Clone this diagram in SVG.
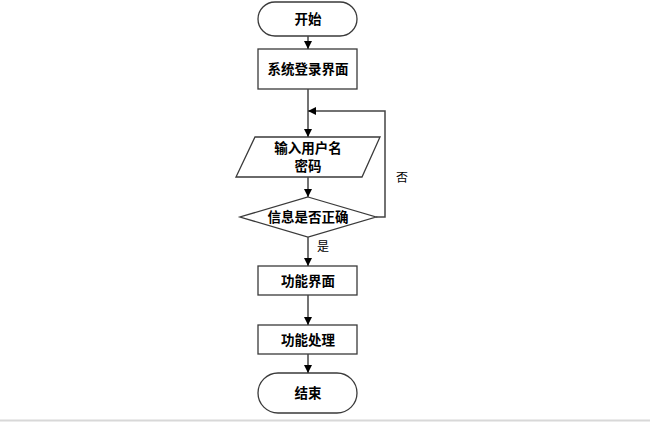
<svg xmlns="http://www.w3.org/2000/svg" width="650" height="422" viewBox="0 0 650 422">
<defs>
<marker id="arr" viewBox="0 0 10 10" refX="10" refY="5" markerWidth="8" markerHeight="8" markerUnits="userSpaceOnUse" orient="auto">
<path d="M0,0 L10,5 L0,10 z" fill="#000"/>
</marker>
<style>
.shape{fill:#fff;stroke:#3a3a3a;stroke-width:1.3}
.t{font-family:"Liberation Sans","Noto Sans CJK SC",sans-serif;font-size:13.5px;font-weight:bold;fill:#000;text-anchor:middle;dominant-baseline:central}
.lbl{font-family:"Liberation Sans","Noto Sans CJK SC",sans-serif;font-size:12px;fill:#000;text-anchor:middle;dominant-baseline:central}
.c{fill:none;stroke:#444;stroke-width:1.5;marker-end:url(#arr)}
</style>
</defs>
<rect width="650" height="422" fill="#fff"/>
<line x1="0" y1="420.5" x2="650" y2="420.5" stroke="#d8d8d8" stroke-width="2"/>
<g id="start"><rect class="shape" x="258" y="2" width="99" height="34" rx="17"/><text class="t" x="308" y="19">开始</text></g>
<g id="login"><rect class="shape" x="258" y="49" width="99" height="40"/><text class="t" x="308" y="69">系统登录界面</text></g>
<g id="input"><polygon class="shape" points="255,137 380,137 362,177 236,177"/><text class="t" x="308" y="148">输入用户名</text><text class="t" x="308" y="166">密码</text></g>
<g id="check"><polygon class="shape" points="308,197 376,217 308,237 240,217"/><text class="t" x="308" y="217">信息是否正确</text></g>
<g id="func"><rect class="shape" x="258" y="266" width="99" height="29"/><text class="t" x="308" y="281">功能界面</text></g>
<g id="proc"><rect class="shape" x="258" y="325" width="99" height="29"/><text class="t" x="308" y="340">功能处理</text></g>
<g id="end"><rect class="shape" x="258" y="373" width="99" height="40" rx="20"/><text class="t" x="308" y="393">结束</text></g>
<g id="connectors">
<path class="c" d="M308,36 V49"/>
<path class="c" d="M308,89 V137"/>
<path class="c" d="M308,177 V197"/>
<path class="c" d="M308,237 V266"/>
<path class="c" d="M308,295 V325"/>
<path class="c" d="M308,354 V373"/>
<path class="c" d="M376,217 H385 V111 H308"/>
<text class="lbl" x="402" y="178">否</text>
<text class="lbl" x="323" y="247">是</text>
</g>
</svg>
